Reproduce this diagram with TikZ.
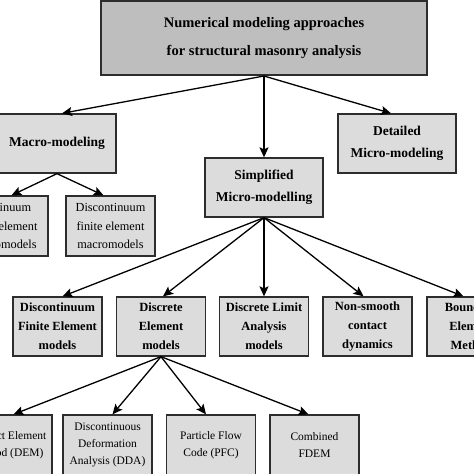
\documentclass[tikz,border=0pt]{standalone}
\usepackage{fontspec}
\setmainfont{Liberation Serif}
\usetikzlibrary{arrows.meta,calc}
\definecolor{boxfill}{RGB}{220,220,220}
\definecolor{topfill}{RGB}{190,190,190}
\definecolor{boxline}{RGB}{45,45,45}
\tikzset{
  basebox/.style={draw=boxline, fill=boxfill, line width=1.3pt, align=center, inner sep=0pt, rectangle},
  topbox/.style={basebox, fill=topfill, line width=2pt, minimum width=326pt, minimum height=74pt,
    font={\fontsize{14.5}{28}\selectfont\bfseries}},
  midbox/.style={basebox, minimum width=118pt, minimum height=59pt,
    font={\fontsize{13.5}{22}\selectfont\bfseries}},
  leafbox/.style={basebox, minimum width=89pt, minimum height=60pt,
    font={\fontsize{12.3}{18.5}\selectfont}},
  rowbox/.style={basebox, minimum width=89pt, minimum height=59pt,
    font={\fontsize{12.5}{19}\selectfont\bfseries}},
  lowbox/.style={basebox, minimum width=89pt, minimum height=60pt,
    font={\fontsize{11.5}{17}\selectfont}},
  conn/.style={line width=1.3pt, black, -{Stealth[length=10pt,width=9pt,inset=2pt]}}
}
\begin{document}
\begin{tikzpicture}[x=1pt,y=-1pt]
\useasboundingbox (0,0) rectangle (474,474);
\clip (0,0) rectangle (474,474);
\fill[white] (0,0) rectangle (474,474);
% level 0
\node[topbox] (top) at (264,38) {Numerical modeling approaches\\for structural masonry analysis};
% level 1
\node[midbox] (macro) at (57,143.5) {Macro-modeling};
\node[midbox] (detail) at (397,143.5) {Detailed\\Micro-modeling};
\node[midbox] (simpl) at (264,187.5) {Simplified\\Micro-modelling};
% macro children
\node[leafbox] (cont) at (3.5,226) {Continuum\\finite element\\macromodels};
\node[leafbox] (discont) at (110.5,226) {Discontinuum\\finite element\\macromodels};
% simplified children
\node[rowbox] (dfe) at (57.5,326.5) {Discontinuum\\Finite Element\\models};
\node[rowbox] (de) at (161,326.5) {Discrete\\Element\\models};
\node[rowbox] (dla) at (264,326.5) {Discrete Limit\\Analysis\\models};
\node[rowbox] (nscd) at (367.5,326.5) {Non-smooth\\contact\\dynamics};
\node[rowbox] (bem) at (471.5,326.5) {Boundary\\Element\\Method};
% discrete element children
\node[lowbox] (dem) at (7.5,445) {Distinct Element\\Method (DEM)};
\node[lowbox] (dda) at (107.5,445) {Discontinuous\\Deformation\\Analysis (DDA)};
\node[lowbox] (pfc) at (211,445) {Particle Flow\\Code (PFC)};
\node[lowbox] (fdem) at (314.5,445) {Combined\\FDEM};
% connectors
\draw[conn] (top.south) -- ($(macro.north)+(5,0)$);
\draw[conn] (top.south) -- (simpl.north);
\draw[conn] (top.south) -- ($(detail.north)+(-6,0)$);
\draw[conn] (macro.south) -- ($(cont.north)+(8,0)$);
\draw[conn] (macro.south) -- ($(discont.north)+(-7,0)$);
\draw[conn] (simpl.south) -- ($(dfe.north)+(5,0)$);
\draw[conn] (simpl.south) -- ($(de.north)+(2,0)$);
\draw[conn] (simpl.south) -- (dla.north);
\draw[conn] (simpl.south) -- ($(nscd.north)+(-4,0)$);
\draw[conn] (simpl.south) -- ($(bem.north)+(-8,0)$);
\draw[conn] (de.south) -- ($(dem.north)+(6,0)$);
\draw[conn] (de.south) -- ($(dda.north)+(5,0)$);
\draw[conn] (de.south) -- ($(pfc.north)+(-5,0)$);
\draw[conn] (de.south) -- ($(fdem.north)+(-6,0)$);
\end{tikzpicture}
\end{document}
